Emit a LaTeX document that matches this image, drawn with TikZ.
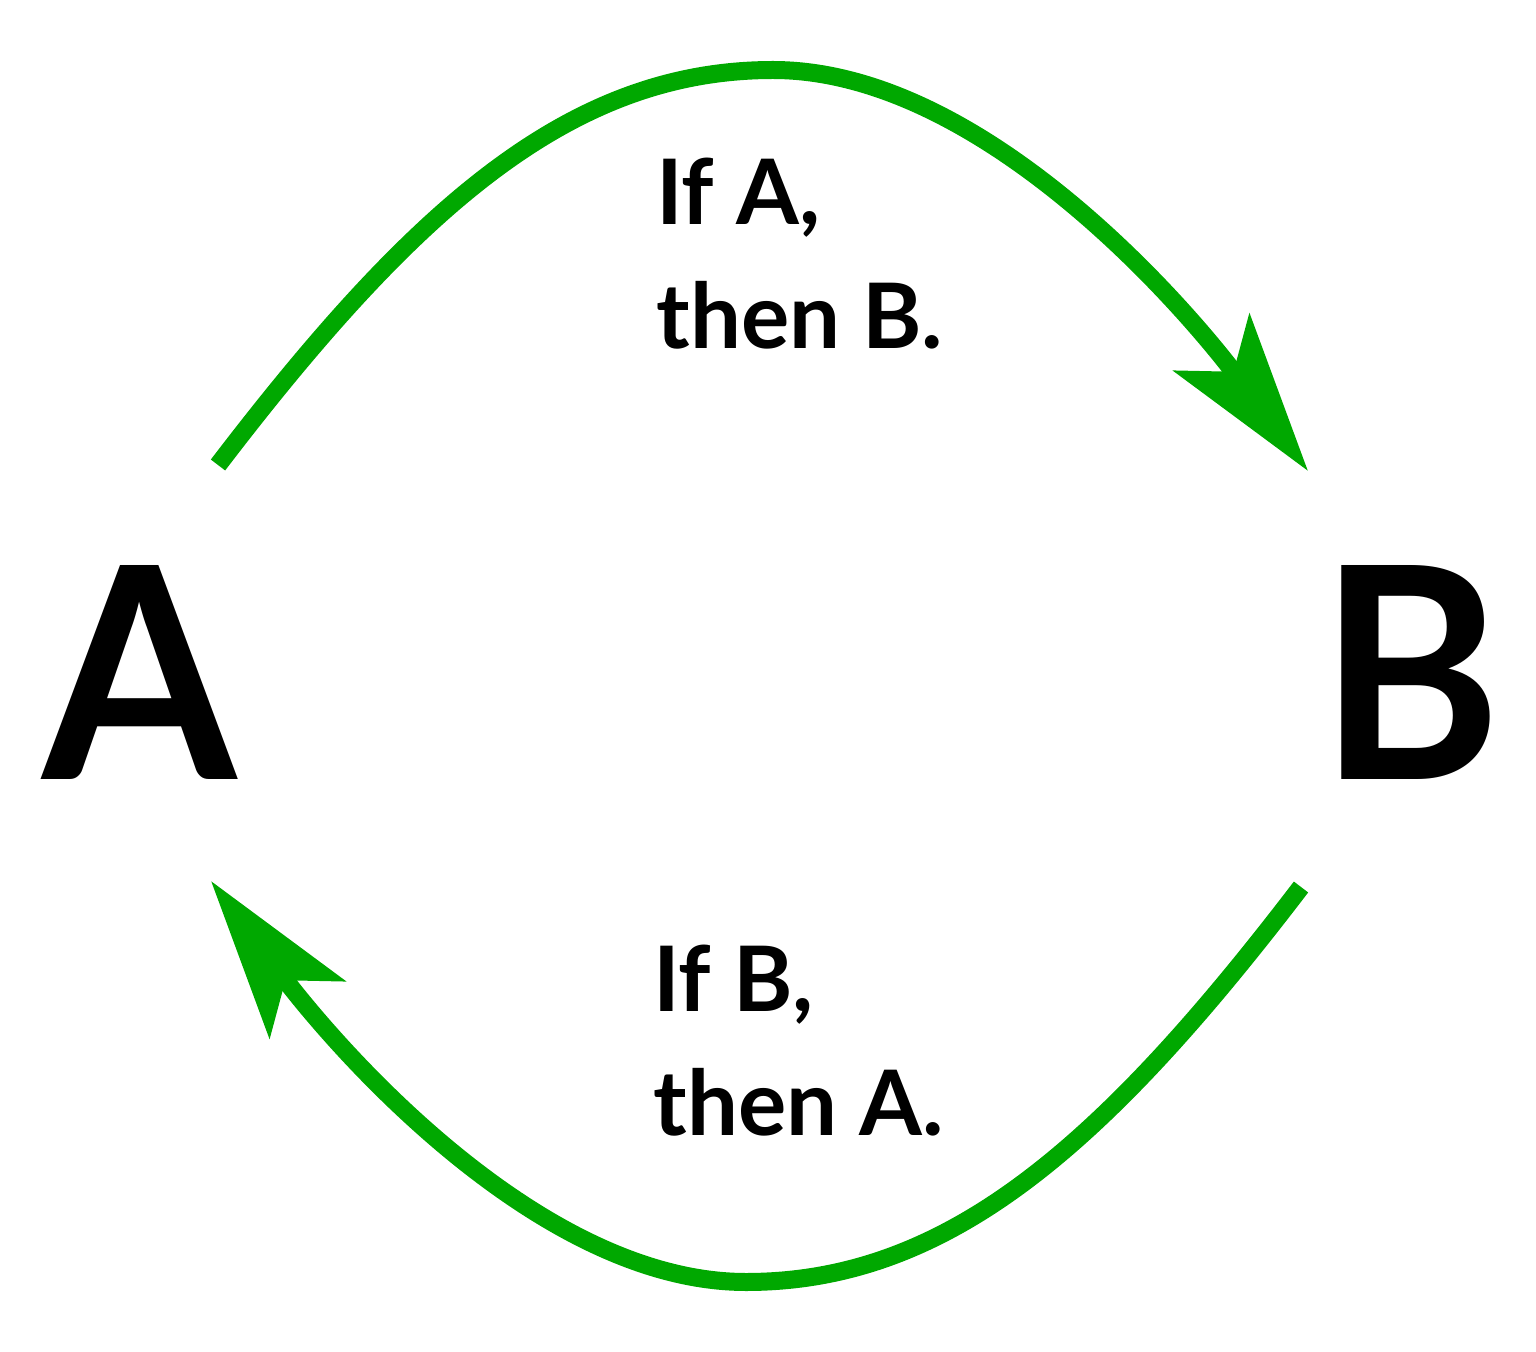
\documentclass[tikz,border=0pt]{standalone}
\usepackage{fontspec}
\setmainfont{Lato}
\usetikzlibrary{arrows.meta}
\definecolor{arrowgreen}{RGB}{0,168,0}
\begin{document}
\begin{tikzpicture}[x=0.5pt,y=-0.5pt,
  bigletter/.style={font=\fontsize{148}{148}\selectfont\bfseries, inner sep=0pt, anchor=base},
  condtext/.style={font=\fontsize{45.2}{62}\selectfont\bfseries, align=left, inner sep=0pt, anchor=base west},
  implies/.style={draw=arrowgreen, line width=9pt, -{Stealth[length=80pt,width=47pt,inset=18pt]}}
]
\useasboundingbox (0,0) rectangle (1536,1352);
\node[bigletter] (A) at (140,779) {\scalebox{0.945}[1]{A}};
\node[bigletter] (B) at (1411,779) {\scalebox{0.935}[1]{B}};
\node[condtext] (t1) at (656,349) {If A,\\then B.};
\node[condtext] (t2) at (653,1135) {If B,\\then A.};
\coordinate (s1) at (218,465);
\coordinate (top) at (773,70);
\coordinate (e1) at (1308,471);
\coordinate (s2) at (1301,887);
\coordinate (bot) at (746,1282);
\coordinate (e2) at (211,881);
\draw[implies] (s1) .. controls (418,203) and (573,70) .. (top)
  .. controls (983,70) and (1188,311) .. (e1);
\draw[implies] (s2) .. controls (1101,1149) and (946,1282) .. (bot)
  .. controls (536,1282) and (331,1041) .. (e2);
\end{tikzpicture}
\end{document}
